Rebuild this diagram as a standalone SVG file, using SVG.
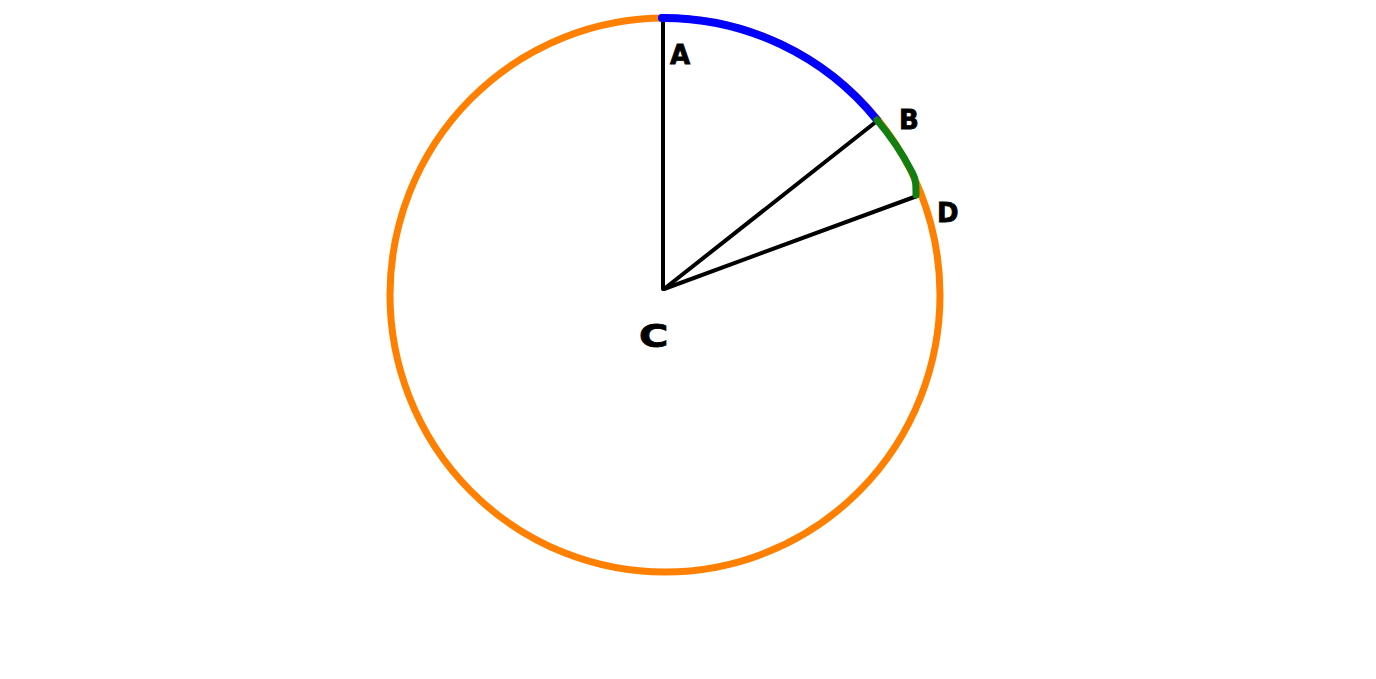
<svg xmlns="http://www.w3.org/2000/svg" width="1376" height="679" viewBox="0 0 1376 679">
<style>
.lbl{font-family:"DejaVu Sans","Liberation Sans",sans-serif;font-weight:bold;fill:#000;stroke:#000;stroke-width:0.8}
.rad{stroke:#000;stroke-width:4;fill:none;stroke-linecap:round}
</style>
<rect width="1376" height="679" fill="#fff"/>
<g id="circle">
<ellipse cx="665" cy="295" rx="275" ry="277" fill="none" stroke="#ff8000" stroke-width="7"/>
</g>
<g id="connectors">
<line class="rad" x1="663" y1="18" x2="663" y2="289"/>
<line class="rad" x1="664" y1="289" x2="877" y2="121"/>
<line class="rad" x1="664" y1="289" x2="917" y2="196"/>
<path d="M662,18 A275.5 277.5 0 0 1 877,120" fill="none" stroke="#0000ff" stroke-width="8" stroke-linecap="round"/>
<path d="M877,120 A275.5 277.5 0 0 1 912,172 C916,179 916,185 916,195" fill="none" stroke="#117f11" stroke-width="7" stroke-linecap="round"/>
</g>
<g id="node-A"><text class="lbl" x="670" y="64" font-size="26">A</text></g>
<g id="node-B"><text class="lbl" x="899" y="129" font-size="26">B</text></g>
<g id="node-D"><text class="lbl" x="937" y="222" font-size="26">D</text></g>
<g id="node-C"><text class="lbl" x="0" y="0" font-size="32" stroke-width="2.5" transform="translate(639,347) scale(1.25,1)">C</text></g>
</svg>
